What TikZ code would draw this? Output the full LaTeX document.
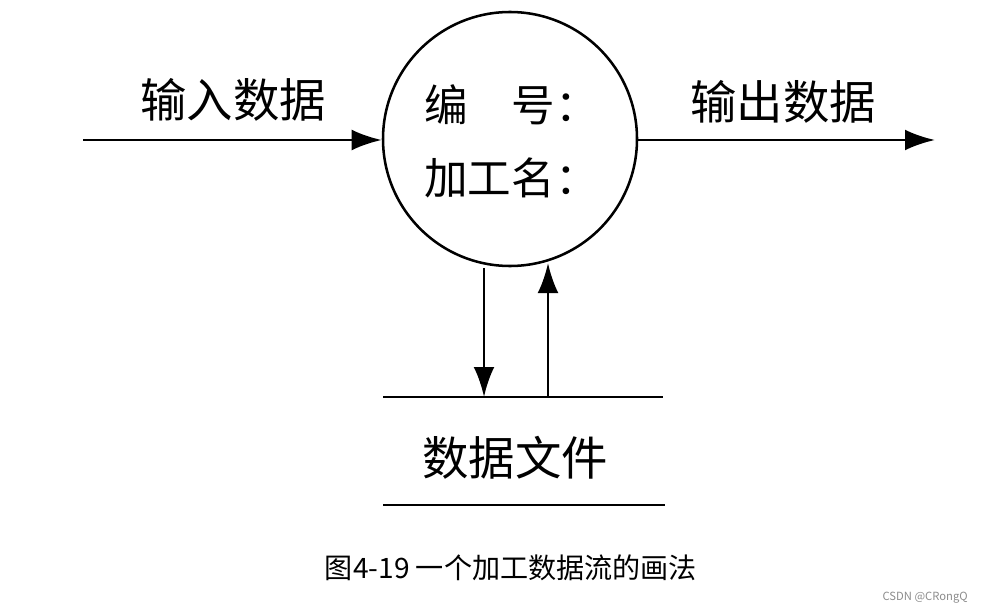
\documentclass[tikz,border=0pt]{standalone}
\usepackage{fontspec}
\newfontfamily\cjk{Noto Sans CJK SC}
\usetikzlibrary{arrows.meta}
\usetikzlibrary{positioning}

\tikzset{
  flow/.style={line width=2pt, -{Latex[length=0.75cm,width=0.52cm]}},
  bigtext/.style={font=\cjk\fontsize{33}{36}\selectfont, inner sep=0pt},
  proctext/.style={font=\cjk\fontsize{31}{34}\selectfont, inner sep=0pt, anchor=west},
}

\begin{document}
\begin{tikzpicture}

\def\R{3.175}   %radius of process circle
\def\ya{11.875} %height of data flows
\def\yt{5.45}   %top line of file
\def\yb{2.75}   %bottom line of file

\useasboundingbox (0,0) rectangle (24.6,15.375);

%process
\node[draw, circle, line width=1.8pt, minimum size=2*\R cm, inner sep=0pt] (proc) at (12.75,11.9) {};
\node[proctext] (num) at (10.6,12.75) {编　号：};
\node[proctext] (pname) at (10.6,10.925) {加工名：};

%input and output flows
\coordinate (inL) at (2.075,\ya);
\coordinate (outR) at (23.375,\ya);
\draw[flow] (inL) -- (proc.west |- inL);
\draw[flow] (proc.east |- outR) -- (outR);
\node[bigtext] (inlab) at (5.825,12.875) {输入数据};
\node[bigtext] (outlab) at (19.575,12.825) {输出数据};

%data file
\coordinate (tl) at (9.575,\yt);
\coordinate (tr) at (16.575,\yt);
\coordinate (bl) at (9.575,\yb);
\coordinate (br) at (16.625,\yb);
\draw[line width=2pt] (tl) -- (tr);
\draw[line width=2pt] (bl) -- (br);
\node[bigtext] (file) at (12.875,3.925) {数据文件};

%read and write
\coordinate (wtop) at (12.1,8.675);
\coordinate (wbot) at (12.1,\yt);
\coordinate (rtop) at (13.7,8.8);
\coordinate (rbot) at (13.7,\yt);
\draw[flow] (wtop) -- (wbot);
\draw[flow] (rbot) -- (rtop);

%caption
\node[font=\cjk\fontsize{20}{23}\selectfont, inner sep=0pt] (cap) at (12.775,1.175) {图4-19 一个加工数据流的画法};
\node[font=\cjk\fontsize{8}{9}\selectfont, text=black!45, inner sep=0pt, anchor=east] (mark) at (24.2,0.425) {CSDN @CRongQ};

\end{tikzpicture}
\end{document}
